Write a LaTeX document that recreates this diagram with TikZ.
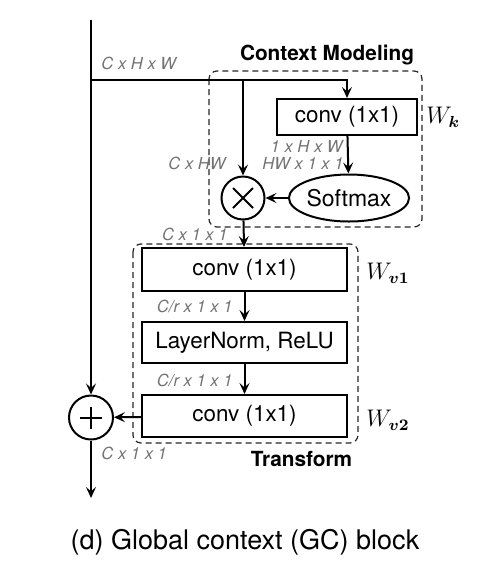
\documentclass[tikz,border=0pt]{standalone}
\usepackage[no-math]{fontspec}
\setmainfont{TeX Gyre Heros}
\usepackage{amsmath}
\usetikzlibrary{arrows.meta,shapes.geometric}

\begin{document}
\begin{tikzpicture}[x=0.5pt,y=-0.5pt,
  box/.style={draw,line width=1pt,minimum width=102.5pt,minimum height=21pt,inner sep=0pt,font=\fontsize{11.2}{13}\selectfont},
  op/.style={draw,line width=1pt,circle,minimum size=21.5pt,inner sep=0pt},
  dim/.style={font=\fontsize{8.3}{10}\selectfont\itshape,text=black!55,inner sep=0pt},
  title/.style={font=\fontsize{10.4}{12}\selectfont\bfseries,inner sep=0pt},
  group/.style={draw=black!85,dash pattern=on 3pt off 2pt,line width=0.6pt,rounded corners=4pt},
  wlabel/.style={font=\fontsize{11.5}{13}\selectfont,anchor=west,inner sep=0pt},
  flow/.style={line width=1pt,-{Stealth[length=5.5pt,width=5pt,inset=2.2pt]}}]
\useasboundingbox (0,0) rectangle (497,579);
\draw[group] (209,71) rectangle (422,227);
\draw[group] (133,244) rectangle (358,443);

\coordinate (in) at (91,20);
\coordinate (split) at (91,80);
\coordinate (out) at (91,498);
\node[box,minimum width=70pt,minimum height=18pt] (convk) at (347,117) {conv (1x1)};
\node[op] (mul) at (243,198) {};
\node[draw,ellipse,line width=1pt,minimum width=52pt,minimum height=23.5pt,inner sep=0pt,
  font=\fontsize{11.5}{13}\selectfont] (soft) at (349,198) {Softmax};
\node[box,minimum height=21.5pt] (v1) at (244.5,269.5) {conv (1x1)};
\node[box,minimum height=20.5pt] (ln) at (244.5,342.5) {LayerNorm, ReLU};
\node[box] (v2) at (244.5,416) {conv (1x1)};
\node[op,minimum size=22pt] (add) at (91,417.5) {};
\draw[line width=1pt] (mul.center) +(-10,-10) -- +(10,10) (mul.center) +(-10,10) -- +(10,-10);
\draw[line width=1pt] (add.center) +(-11,0) -- +(11,0) (add.center) +(0,-11) -- +(0,11);

\draw[flow] (in) -- (add);
\draw[flow] (split) -| (convk);
\draw[flow] (split -| mul) -- (mul);
\draw[flow] (convk) -- (soft);
\draw[flow] (soft) -- (mul);
\draw[flow] (mul) -- (v1);
\draw[flow] (v1) -- (ln);
\draw[flow] (ln) -- (v2);
\draw[flow] (v2) -- (add);
\draw[flow] (add) -- (out);

\node[dim,anchor=west] (d1) at (101,63) {C x H x W};
\node[dim,anchor=east] (d2) at (343,146) {1 x H x W};
\node[dim,anchor=east] (d3) at (344,163) {HW x 1 x 1};
\node[dim,anchor=east] (d4) at (226,163) {C x HW};
\node[dim,anchor=east] (d5) at (228,234) {C x 1 x 1};
\node[dim,anchor=east] (d6) at (233,306) {C/r x 1 x 1};
\node[dim,anchor=east] (d7) at (233,380) {C/r x 1 x 1};
\node[dim,anchor=west] (d8) at (101,453) {C x 1 x 1};

\node[title] (cm) at (327,55) {Context Modeling};
\node[title] (tf) at (301.5,459) {Transform};
\node[wlabel] (wk) at (426,117) {$W_{\boldsymbol{k}}$};
\node[wlabel] (wv1) at (366,273) {$W_{\boldsymbol{v1}}$};
\node[wlabel] (wv2) at (366,420) {$W_{\boldsymbol{v2}}$};

\node[font=\fontsize{13.5}{16}\selectfont] (cap) at (245,542) {(d) Global context (GC) block};
\end{tikzpicture}
\end{document}
